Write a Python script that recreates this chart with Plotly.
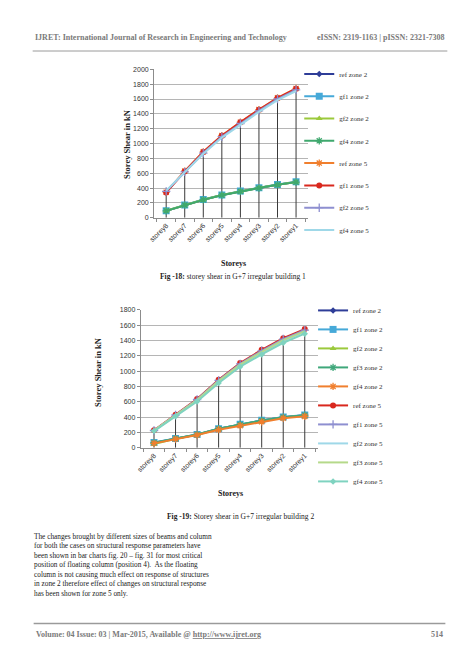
import plotly.graph_objects as go

W, H = 474, 670

storeys = ["storey8", "storey7", "storey6", "storey5", "storey4", "storey3", "storey2", "storey1"]

# Fig 18 - building 1 (kN)
b1_ref_z2 = [92, 170, 242, 305, 356, 402, 445, 482]
b1_gf1_z2 = [95, 172, 245, 307, 359, 404, 447, 485]
b1_gf2_z2 = [94, 171, 243, 306, 357, 403, 446, 483]
b1_gf4_z2 = [93, 170, 241, 304, 355, 400, 443, 480]
b1_ref_z5 = [345, 628, 888, 1108, 1288, 1458, 1615, 1742]
b1_gf1_z5 = [340, 625, 885, 1105, 1285, 1455, 1612, 1738]
b1_gf2_z5 = [355, 618, 872, 1092, 1270, 1440, 1600, 1724]
b1_gf4_z5 = [365, 612, 862, 1080, 1256, 1426, 1586, 1708]

# Fig 19 - building 2 (kN)
b2_ref_z2 = [66, 120, 172, 248, 304, 355, 398, 425]
b2_gf1_z2 = [68, 122, 174, 250, 306, 358, 401, 428]
b2_gf2_z2 = [50, 118, 170, 245, 302, 352, 396, 423]
b2_gf3_z2 = [66, 121, 173, 249, 305, 356, 400, 426]
b2_gf4_z2 = [58, 114, 166, 236, 289, 339, 386, 410]
b2_ref_z5 = [228, 432, 635, 888, 1105, 1278, 1430, 1548]
b2_gf1_z5 = [226, 428, 630, 880, 1095, 1265, 1418, 1535]
b2_gf2_z5 = [222, 420, 618, 862, 1075, 1240, 1395, 1512]
b2_gf3_z5 = [224, 424, 624, 870, 1085, 1252, 1405, 1522]
b2_gf4_z5 = [218, 412, 605, 845, 1058, 1218, 1370, 1488]

paragraph = [
    "The changes brought by different sizes of beams and column",
    "for both the cases on structural response parameters have",
    "been shown in bar charts fig. 20 \u2013 fig. 31 for most critical",
    "position of floating column (position 4).  As the floating",
    "column is not causing much effect on response of structures",
    "in zone 2 therefore effect of changes on structural response",
    "has been shown for zone 5 only.",
]

SERIF = "Liberation Serif"
SANS = "Liberation Sans"


def px(x):
    return x / W


def py(y):
    return 1 - y / H


# name, values, color, marker symbol, marker size
series1 = [
    ("ref zone 2", b1_ref_z2, "#2E3D98", "diamond", 5),
    ("gf1 zone 2", b1_gf1_z2, "#46A9D8", "square", 7),
    ("gf2 zone 2", b1_gf2_z2, "#9BC93C", "triangle-up", 6),
    ("gf4 zone 2", b1_gf4_z2, "#3FA86E", "asterisk-open", 6),
    ("ref zone 5", b1_ref_z5, "#F07F2E", "asterisk-open", 6),
    ("gf1 zone 5", b1_gf1_z5, "#D9281E", "circle", 6),
    ("gf2 zone 5", b1_gf2_z5, "#8E8FD0", "cross-thin-open", 6),
    ("gf4 zone 5", b1_gf4_z5, "#9FD8E8", None, 0),
]
series2 = [
    ("ref zone 2", b2_ref_z2, "#2E3D98", "diamond", 5),
    ("gf1 zone 2", b2_gf1_z2, "#46A9D8", "square", 7),
    ("gf2 zone 2", b2_gf2_z2, "#9BC93C", "triangle-up", 6),
    ("gf3 zone 2", b2_gf3_z2, "#3FA77A", "asterisk-open", 6),
    ("gf4 zone 2", b2_gf4_z2, "#F07F2E", "asterisk-open", 6),
    ("ref zone 5", b2_ref_z5, "#D9281E", "circle", 6),
    ("gf1 zone 5", b2_gf1_z5, "#8E8FD0", "cross-thin-open", 6),
    ("gf2 zone 5", b2_gf2_z5, "#9FD8E8", None, 0),
    ("gf3 zone 5", b2_gf3_z5, "#B5D98A", None, 0),
    ("gf4 zone 5", b2_gf4_z5, "#7FD3C0", "diamond", 5),
]

fig = go.Figure()


def add_chart(series, xa, ya, legend_name, grouped):
    # drop lines from the highest point of each storey down to the axis
    dx, dy = [], []
    for i, s in enumerate(storeys):
        top = max(v[i] for _, v, _, _, _ in series)
        dx += [s, s, None]
        dy += [0, top, None]
    fig.add_trace(go.Scatter(x=dx, y=dy, mode="lines", line=dict(color="#3a3a3a", width=1),
                             showlegend=False, hoverinfo="skip", xaxis=xa, yaxis=ya))
    for k, (name, vals, col, sym, size) in enumerate(series):
        mk = dict(color=col, size=size)
        if sym is None:
            mode = "lines"
        else:
            mode = "lines+markers"
            mk["symbol"] = sym
            if sym.endswith("-open"):
                mk["line"] = dict(color=col, width=1.3)
        fig.add_trace(go.Scatter(x=storeys, y=vals, name=name, mode=mode,
                                 line=dict(color=col, width=2), marker=mk,
                                 xaxis=xa, yaxis=ya, legend=legend_name,
                                 legendgroup=(legend_name + str(k)) if grouped else None))


add_chart(series1, "x", "y", "legend", True)
add_chart(series2, "x2", "y2", "legend2", False)

axis_common = dict(showgrid=False, showline=True, linecolor="#8c8c8c", linewidth=1,
                   ticks="outside", tickcolor="#8c8c8c", ticklen=3,
                   tickfont=dict(family=SANS, size=7, color="#333"))
yaxis_common = dict(showgrid=True, gridcolor="#b5b5b5", gridwidth=1, zeroline=False,
                    showline=True, linecolor="#8c8c8c", ticks="outside", tickcolor="#8c8c8c",
                    ticklen=3, dtick=200, tickfont=dict(family=SANS, size=7, color="#333"))

fig.update_layout(
    width=W, height=H,
    margin=dict(l=0, r=0, t=0, b=0),
    paper_bgcolor="white", plot_bgcolor="white",
    xaxis=dict(domain=[px(150), px(306)], anchor="y", tickangle=-45,
               tickson="boundaries", **axis_common),
    yaxis=dict(domain=[py(216), py(66)], anchor="x", range=[0, 2000], **yaxis_common),
    xaxis2=dict(domain=[px(136.5), px(316)], anchor="y2", tickangle=-45,
                tickson="boundaries", **axis_common),
    yaxis2=dict(domain=[py(448.5), py(309)], anchor="x2", range=[0, 1800], **yaxis_common),
    legend=dict(x=px(297), y=py(56), xanchor="left", yanchor="top", itemwidth=30,
                tracegroupgap=3.3, bgcolor="rgba(0,0,0,0)",
                font=dict(family=SERIF, size=7, color="#333")),
    legend2=dict(x=px(311), y=py(295), xanchor="left", yanchor="top", itemwidth=30,
                 tracegroupgap=0, bgcolor="rgba(0,0,0,0)",
                 font=dict(family=SERIF, size=7, color="#333")),
)

ann = []


def text(x, y, s, size=8, color="#222", xanchor="left", angle=0, family=SERIF):
    ann.append(dict(x=px(x), y=py(y), xref="paper", yref="paper", text=s, showarrow=False,
                    xanchor=xanchor, yanchor="middle", textangle=angle, align="left",
                    font=dict(family=family, size=size, color=color)))


text(27, 34, "<b>IJRET: International Journal of Research in Engineering and Technology</b>",
     size=8, color="#7a7a7a")
text(447, 34, "<b>eISSN: 2319-1163 | pISSN: 2321-7308</b>", size=8, color="#7a7a7a", xanchor="right")

text(122, 141, "<b>Storey Shear in kN</b>", size=8.5, xanchor="center", angle=-90)
text(230, 262, "<b>Storeys</b>", size=8, xanchor="center")
text(230, 275, "<b>Fig -18:</b> storey shear in G+7 irregular building 1", size=7.5, xanchor="center")

text(93, 372, "<b>Storey Shear in kN</b>", size=8.5, xanchor="center", angle=-90)
text(227, 495, "<b>Storeys</b>", size=8, xanchor="center")
text(237, 518, "<b>Fig -19:</b> Storey shear in G+7 irregular building 2", size=7.5, xanchor="center")

# paragraph as one block so the lines keep their own spacing
text(26, 567, "<br>".join(paragraph), size=7.3)

text(28, 637, "<b>Volume: 04 Issue: 03 | Mar-2015, Available @ <u>http://www.ijret.org</u></b>",
     size=8, color="#7a7a7a")
text(445, 637, "<b>514</b>", size=8, color="#7a7a7a", xanchor="right")

fig.update_layout(annotations=ann)

fig.add_shape(type="line", xref="paper", yref="paper", x0=px(27), x1=px(447), y0=py(47.5), y1=py(47.5),
              line=dict(color="#9a9a9a", width=1))
fig.add_shape(type="line", xref="paper", yref="paper", x0=px(28), x1=px(445), y0=py(626), y1=py(626),
              line=dict(color="#9a9a9a", width=1.5))

fig.write_html("out.html", config={"displayModeBar": False},
               post_script="document.body.style.margin='0';")
